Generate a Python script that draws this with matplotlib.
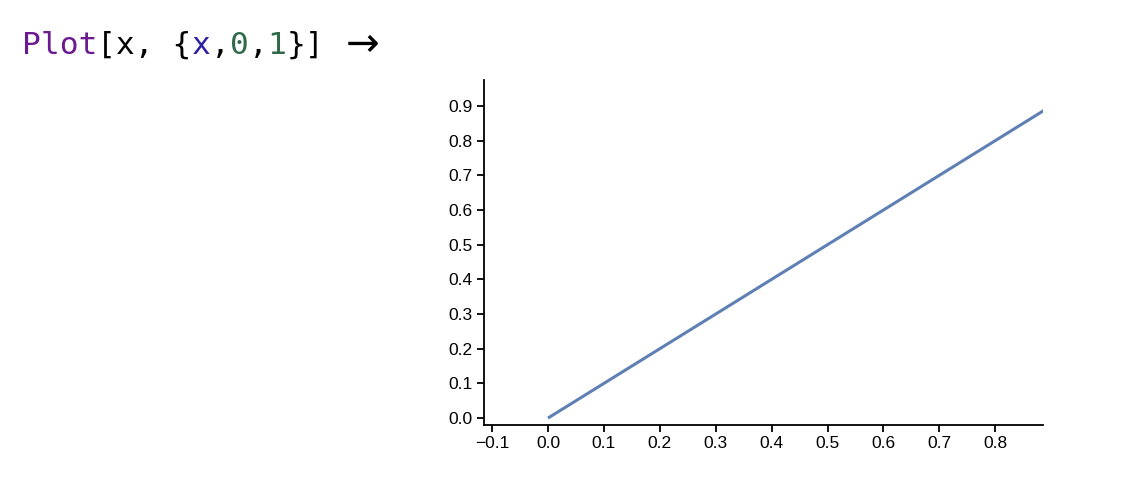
import numpy as np
import matplotlib.pyplot as plt

# function Plot[x, {x,0,1}] sampled at its ends (straight line)
x_vals = [0.0, 1.0]
y_vals = [0.0, 1.0]

x_ticks = [-0.1, 0.0, 0.1, 0.2, 0.3, 0.4, 0.5, 0.6, 0.7, 0.8]
y_ticks = [0.0, 0.1, 0.2, 0.3, 0.4, 0.5, 0.6, 0.7, 0.8, 0.9]

# input expression pieces and their colours
code_parts = ["Plot", "[x, {", "x", ",", "0", ",", "1", "}]"]
code_colors = ["#6b1a8f", "#000000", "#2b1fa3", "#000000", "#2f6b4b",
               "#000000", "#2f6b4b", "#000000"]

W, H = 1144, 486
fig = plt.figure(figsize=(W / 100, H / 100), dpi=100)
ax = fig.add_axes([484 / W, (H - 425) / H, (1043 - 484) / W, (425 - 80) / H])

ax.plot(x_vals, y_vals, color="#5f80b4", lw=2.2, solid_capstyle="butt")
ax.set_xlim(-0.1145, 0.8855)
ax.set_ylim(-0.02, 0.975)

ax.set_xticks(x_ticks)
ax.set_yticks(y_ticks)
ax.set_xticklabels(["\u22120.1"] + [f"{t:.1f}" for t in x_ticks[1:]])
ax.set_yticklabels([f"{t:.1f}" for t in y_ticks])

for s in ["top", "right"]:
    ax.spines[s].set_visible(False)
for s in ["left", "bottom"]:
    ax.spines[s].set_linewidth(1.3)
ax.tick_params(direction="out", length=5, width=1.3, labelsize=12.5, pad=3)
for lab in ax.get_xticklabels() + ax.get_yticklabels():
    lab.set_fontfamily("Liberation Sans")

# header text, placed piece by piece
fig.canvas.draw()
renderer = fig.canvas.get_renderer()
xpos = 22
for part, col in zip(code_parts, code_colors):
    t = fig.text(xpos / W, (H - 45) / H, part, color=col, fontsize=22.5,
                 family="DejaVu Sans Mono", va="center", ha="left")
    bb = t.get_window_extent(renderer)
    xpos += bb.width
fig.text(346 / W, (H - 45) / H, "\u2192", color="black", fontsize=29,
         family="DejaVu Sans", va="center", ha="left")

fig.savefig("out.png", dpi=100)
